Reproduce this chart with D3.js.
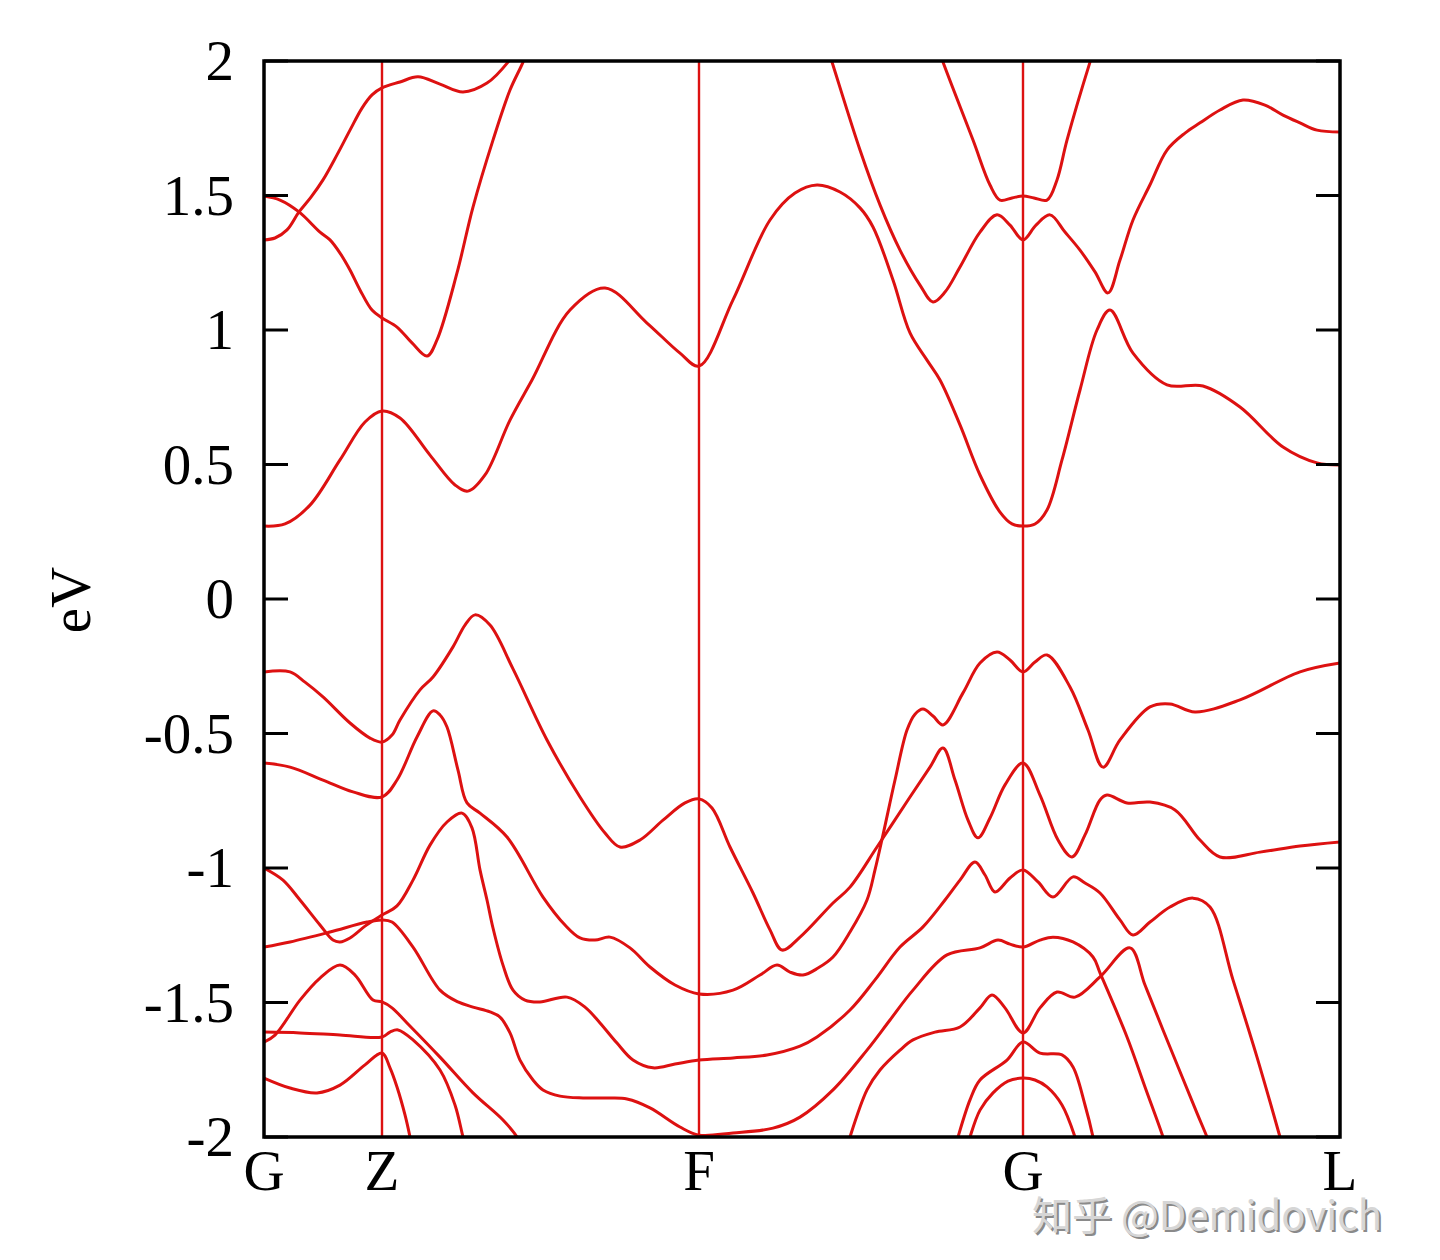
<!DOCTYPE html>
<html>
<head>
<meta charset="utf-8">
<script src="https://cdn.jsdelivr.net/npm/d3@7"></script>
<style>
  body { margin: 0; background: #fff; }
  svg { display: block; }
</style>
</head>
<body>
<svg id="chart" width="1440" height="1260"></svg>
<script>
// high-symmetry points along the k path
const kLabels = ["G", "Z", "F", "G", "L"];
const kTicks = [0, 0.118, 0.435, 0.759, 1.076];
const energyTicks = [-2, -1.5, -1, -0.5, 0, 0.5, 1, 1.5, 2];
const energyLabels = ["-2", "-1.5", "-1", "-0.5", "0", "0.5", "1", "1.5", "2"];

// bands, [k, E(eV)]
const cond1 = [[0,0.271],[0.021,0.279],[0.046,0.349],[0.076,0.517],[0.101,0.658],[0.118,0.699],[0.136,0.673],[0.166,0.535],[0.191,0.424],[0.204,0.401],[0.221,0.461],[0.246,0.665],[0.268,0.814],[0.306,1.074],[0.341,1.156],[0.383,1.026],[0.416,0.914],[0.435,0.866],[0.469,1.112],[0.506,1.409],[0.531,1.509],[0.553,1.539],[0.576,1.513],[0.596,1.454],[0.609,1.383],[0.629,1.186],[0.646,0.989],[0.663,0.888],[0.676,0.814],[0.696,0.647],[0.716,0.461],[0.736,0.323],[0.748,0.279],[0.759,0.271],[0.771,0.279],[0.783,0.331],[0.798,0.517],[0.816,0.777],[0.833,1.0],[0.846,1.074],[0.869,0.914],[0.903,0.796],[0.939,0.792],[0.976,0.714],[1.019,0.565],[1.053,0.506],[1.076,0.498]];
const cond2 = [[0.565,2.03],[0.568,1.996],[0.596,1.669],[0.616,1.465],[0.636,1.297],[0.656,1.167],[0.669,1.104],[0.681,1.141],[0.696,1.234],[0.716,1.364],[0.733,1.428],[0.746,1.390],[0.759,1.335],[0.772,1.390],[0.786,1.428],[0.801,1.364],[0.816,1.297],[0.831,1.216],[0.844,1.138],[0.856,1.260],[0.869,1.409],[0.886,1.540],[0.903,1.669],[0.921,1.732],[0.936,1.770],[0.956,1.818],[0.979,1.855],[1.001,1.836],[1.019,1.799],[1.036,1.770],[1.053,1.743],[1.076,1.736]];
const cond3 = [[0.676,2.03],[0.679,1.996],[0.709,1.706],[0.726,1.539],[0.736,1.483],[0.748,1.491],[0.759,1.498],[0.770,1.491],[0.783,1.483],[0.793,1.558],[0.803,1.706],[0.826,1.996],[0.829,2.03]];
const cond4 = [[0,1.335],[0.011,1.342],[0.023,1.372],[0.035,1.439],[0.047,1.494],[0.059,1.558],[0.073,1.651],[0.086,1.743],[0.098,1.825],[0.108,1.874],[0.118,1.900],[0.136,1.922],[0.154,1.941],[0.176,1.914],[0.199,1.885],[0.223,1.918],[0.244,1.996],[0.250,2.03]];
const cond5 = [[0,1.498],[0.016,1.483],[0.035,1.439],[0.056,1.364],[0.066,1.335],[0.076,1.286],[0.086,1.223],[0.096,1.149],[0.108,1.074],[0.118,1.045],[0.133,1.011],[0.148,0.952],[0.163,0.903],[0.173,0.963],[0.193,1.212],[0.209,1.457],[0.229,1.706],[0.246,1.892],[0.259,1.996],[0.263,2.04]];

const val1 = [[0,-0.271],[0.026,-0.271],[0.041,-0.309],[0.059,-0.364],[0.086,-0.461],[0.106,-0.517],[0.118,-0.532],[0.128,-0.506],[0.136,-0.450],[0.156,-0.338],[0.169,-0.290],[0.189,-0.178],[0.201,-0.097],[0.211,-0.059],[0.226,-0.097],[0.249,-0.260],[0.283,-0.524],[0.316,-0.736],[0.341,-0.870],[0.356,-0.922],[0.376,-0.896],[0.399,-0.822],[0.421,-0.758],[0.435,-0.743],[0.448,-0.777],[0.466,-0.922],[0.489,-1.093],[0.506,-1.230],[0.518,-1.305],[0.536,-1.257],[0.569,-1.130],[0.586,-1.071],[0.613,-0.922],[0.646,-0.736],[0.666,-0.625],[0.679,-0.554],[0.691,-0.673],[0.704,-0.822],[0.714,-0.888],[0.726,-0.814],[0.741,-0.691],[0.759,-0.610],[0.776,-0.729],[0.794,-0.896],[0.808,-0.959],[0.821,-0.877],[0.836,-0.747],[0.843,-0.729],[0.863,-0.758],[0.886,-0.755],[0.911,-0.784],[0.936,-0.896],[0.956,-0.959],[0.996,-0.941],[1.036,-0.918],[1.076,-0.903]];
const val2 = [[0,-0.610],[0.026,-0.625],[0.059,-0.673],[0.089,-0.717],[0.118,-0.736],[0.133,-0.673],[0.153,-0.513],[0.169,-0.416],[0.176,-0.431],[0.183,-0.476],[0.194,-0.636],[0.203,-0.758],[0.216,-0.796],[0.243,-0.885],[0.279,-1.108],[0.301,-1.212],[0.316,-1.260],[0.331,-1.268],[0.346,-1.257],[0.366,-1.297],[0.386,-1.368],[0.411,-1.435],[0.435,-1.468],[0.469,-1.454],[0.496,-1.398],[0.513,-1.361],[0.526,-1.387],[0.539,-1.398],[0.554,-1.372],[0.569,-1.331],[0.586,-1.238],[0.603,-1.119],[0.611,-1.007],[0.619,-0.877],[0.631,-0.673],[0.643,-0.487],[0.651,-0.428],[0.659,-0.409],[0.669,-0.435],[0.679,-0.468],[0.699,-0.349],[0.716,-0.238],[0.733,-0.197],[0.746,-0.227],[0.759,-0.271],[0.771,-0.234],[0.783,-0.208],[0.806,-0.327],[0.824,-0.487],[0.839,-0.625],[0.856,-0.524],[0.886,-0.401],[0.906,-0.390],[0.931,-0.420],[0.976,-0.375],[1.036,-0.271],[1.076,-0.238]];
const val3 = [[0,-1.0],[0.019,-1.045],[0.036,-1.119],[0.056,-1.212],[0.069,-1.268],[0.076,-1.275],[0.086,-1.260],[0.101,-1.216],[0.118,-1.175],[0.133,-1.141],[0.149,-1.045],[0.166,-0.915],[0.183,-0.829],[0.198,-0.796],[0.208,-0.851],[0.216,-1.007],[0.223,-1.119],[0.229,-1.223],[0.239,-1.361],[0.249,-1.454],[0.261,-1.491],[0.276,-1.498],[0.303,-1.480],[0.321,-1.517],[0.336,-1.576],[0.353,-1.651],[0.369,-1.714],[0.389,-1.743],[0.411,-1.729],[0.435,-1.714],[0.469,-1.706],[0.503,-1.695],[0.536,-1.662],[0.553,-1.628],[0.586,-1.528],[0.611,-1.416],[0.636,-1.294],[0.659,-1.219],[0.681,-1.119],[0.696,-1.045],[0.711,-0.978],[0.721,-1.026],[0.731,-1.089],[0.746,-1.037],[0.759,-1.007],[0.774,-1.052],[0.789,-1.108],[0.809,-1.033],[0.821,-1.056],[0.836,-1.093],[0.856,-1.193],[0.869,-1.249],[0.886,-1.201],[0.906,-1.145],[0.929,-1.112],[0.946,-1.145],[0.969,-1.416],[0.993,-1.703],[1.016,-2.0],[1.019,-2.04]];
const val4 = [[0,-1.294],[0.026,-1.275],[0.066,-1.238],[0.103,-1.201],[0.118,-1.193],[0.128,-1.201],[0.149,-1.294],[0.176,-1.454],[0.194,-1.498],[0.209,-1.517],[0.226,-1.535],[0.236,-1.554],[0.246,-1.613],[0.256,-1.714],[0.269,-1.788],[0.279,-1.825],[0.296,-1.848],[0.319,-1.855],[0.346,-1.855],[0.363,-1.859],[0.386,-1.892],[0.416,-1.963],[0.435,-1.993],[0.469,-1.985],[0.509,-1.967],[0.536,-1.926],[0.569,-1.825],[0.603,-1.677],[0.626,-1.565],[0.649,-1.454],[0.683,-1.323],[0.716,-1.297],[0.734,-1.268],[0.746,-1.283],[0.759,-1.294],[0.776,-1.268],[0.789,-1.257],[0.809,-1.275],[0.829,-1.331],[0.836,-1.390],[0.863,-1.628],[0.881,-1.814],[0.899,-2.0],[0.902,-2.04]];
const val5 = [[0.583,-2.04],[0.586,-2.0],[0.603,-1.825],[0.616,-1.751],[0.636,-1.677],[0.649,-1.639],[0.671,-1.610],[0.696,-1.591],[0.716,-1.520],[0.728,-1.472],[0.741,-1.520],[0.759,-1.613],[0.776,-1.520],[0.793,-1.461],[0.811,-1.480],[0.836,-1.405],[0.866,-1.297],[0.881,-1.435],[0.899,-1.602],[0.933,-1.911],[0.943,-2.0],[0.947,-2.04]];
const val6 = [[0.691,-2.04],[0.694,-2.0],[0.706,-1.862],[0.716,-1.788],[0.743,-1.714],[0.759,-1.647],[0.776,-1.688],[0.798,-1.695],[0.809,-1.740],[0.821,-1.881],[0.829,-2.0],[0.831,-2.04]];
const val7 = [[0.703,-2.04],[0.706,-2.0],[0.716,-1.900],[0.729,-1.836],[0.744,-1.792],[0.759,-1.781],[0.771,-1.788],[0.783,-1.814],[0.798,-1.881],[0.811,-2.0],[0.814,-2.04]];
const val8 = [[0,-1.647],[0.011,-1.621],[0.036,-1.491],[0.056,-1.409],[0.076,-1.361],[0.091,-1.398],[0.109,-1.491],[0.118,-1.498],[0.128,-1.520],[0.143,-1.576],[0.176,-1.703],[0.209,-1.836],[0.239,-1.937],[0.253,-2.0],[0.258,-2.04]];
const val9 = [[0,-1.610],[0.036,-1.613],[0.076,-1.621],[0.118,-1.628],[0.126,-1.610],[0.134,-1.602],[0.149,-1.639],[0.176,-1.751],[0.191,-1.881],[0.199,-2.0],[0.202,-2.04]];
const val10 = [[0,-1.781],[0.026,-1.818],[0.053,-1.836],[0.076,-1.807],[0.101,-1.732],[0.118,-1.688],[0.126,-1.743],[0.133,-1.814],[0.141,-1.918],[0.146,-2.0],[0.148,-2.04]];

const bands = [cond1, cond2, cond3, cond4, cond5, val1, val2, val3, val4, val5, val6, val7, val8, val9, val10];

const svg = d3.select("#chart");
const margin = {left: 264, right: 100, top: 61, bottom: 123};
const width = 1440 - margin.left - margin.right;
const height = 1260 - margin.top - margin.bottom;
const red = "#dd1111";
const serif = "'Liberation Serif', 'Times New Roman', serif";

const x = d3.scaleLinear().domain([0, 1.076]).range([0, width]);
const y = d3.scaleLinear().domain([-2, 2]).range([height, 0]);

const g = svg.append("g").attr("transform", `translate(${margin.left},${margin.top})`);

g.append("clipPath").attr("id", "plot-clip")
    .append("rect").attr("width", width).attr("height", height);

// vertical lines at inner high-symmetry points
g.append("g")
    .selectAll("line")
    .data(kTicks.slice(1, -1))
    .join("line")
    .attr("x1", d => x(d)).attr("x2", d => x(d))
    .attr("y1", 0).attr("y2", height)
    .attr("stroke", red)
    .attr("stroke-width", 2.4);

// bands
const line = d3.line()
    .x(d => x(d[0]))
    .y(d => y(d[1]))
    .curve(d3.curveCatmullRom.alpha(0.5));

g.append("g")
    .attr("clip-path", "url(#plot-clip)")
    .selectAll("path")
    .data(bands)
    .join("path")
    .attr("d", line)
    .attr("fill", "none")
    .attr("stroke", red)
    .attr("stroke-width", 3)
    .attr("stroke-linejoin", "round");

// y ticks (inside, both sides)
const yTickG = g.append("g");
yTickG.selectAll("line.l")
    .data(energyTicks)
    .join("line")
    .attr("class", "l")
    .attr("x1", 0).attr("x2", 24)
    .attr("y1", d => y(d)).attr("y2", d => y(d))
    .attr("stroke", "#000").attr("stroke-width", 3);
yTickG.selectAll("line.r")
    .data(energyTicks)
    .join("line")
    .attr("class", "r")
    .attr("x1", width - 24).attr("x2", width)
    .attr("y1", d => y(d)).attr("y2", d => y(d))
    .attr("stroke", "#000").attr("stroke-width", 3);

yTickG.selectAll("text")
    .data(energyTicks)
    .join("text")
    .attr("x", -30)
    .attr("y", d => y(d) + 19)
    .attr("text-anchor", "end")
    .attr("font-family", serif)
    .attr("font-size", 57)
    .text((d, i) => energyLabels[i]);

// frame
g.append("rect")
    .attr("width", width).attr("height", height)
    .attr("fill", "none")
    .attr("stroke", "#000")
    .attr("stroke-width", 3.5);

// k labels
g.append("g")
    .selectAll("text")
    .data(kTicks)
    .join("text")
    .attr("x", d => x(d))
    .attr("y", height + 53)
    .attr("text-anchor", "middle")
    .attr("font-family", serif)
    .attr("font-size", 57)
    .text((d, i) => kLabels[i]);

// axis title
svg.append("text")
    .attr("transform", "translate(90,600) rotate(-90)")
    .attr("text-anchor", "middle")
    .attr("font-family", serif)
    .attr("font-size", 57)
    .text("eV");

// watermark
const wm = svg.append("g")
    .attr("font-family", "'Noto Sans CJK SC', 'Noto Sans', sans-serif")
    .attr("font-size", 40);
wm.append("text").attr("x", 1034).attr("y", 1232).attr("fill", "#8a8a8a").text("知乎 @Demidovich");
wm.append("text").attr("x", 1032).attr("y", 1230).attr("fill", "#d6d6d6").text("知乎 @Demidovich");
</script>
</body>
</html>
